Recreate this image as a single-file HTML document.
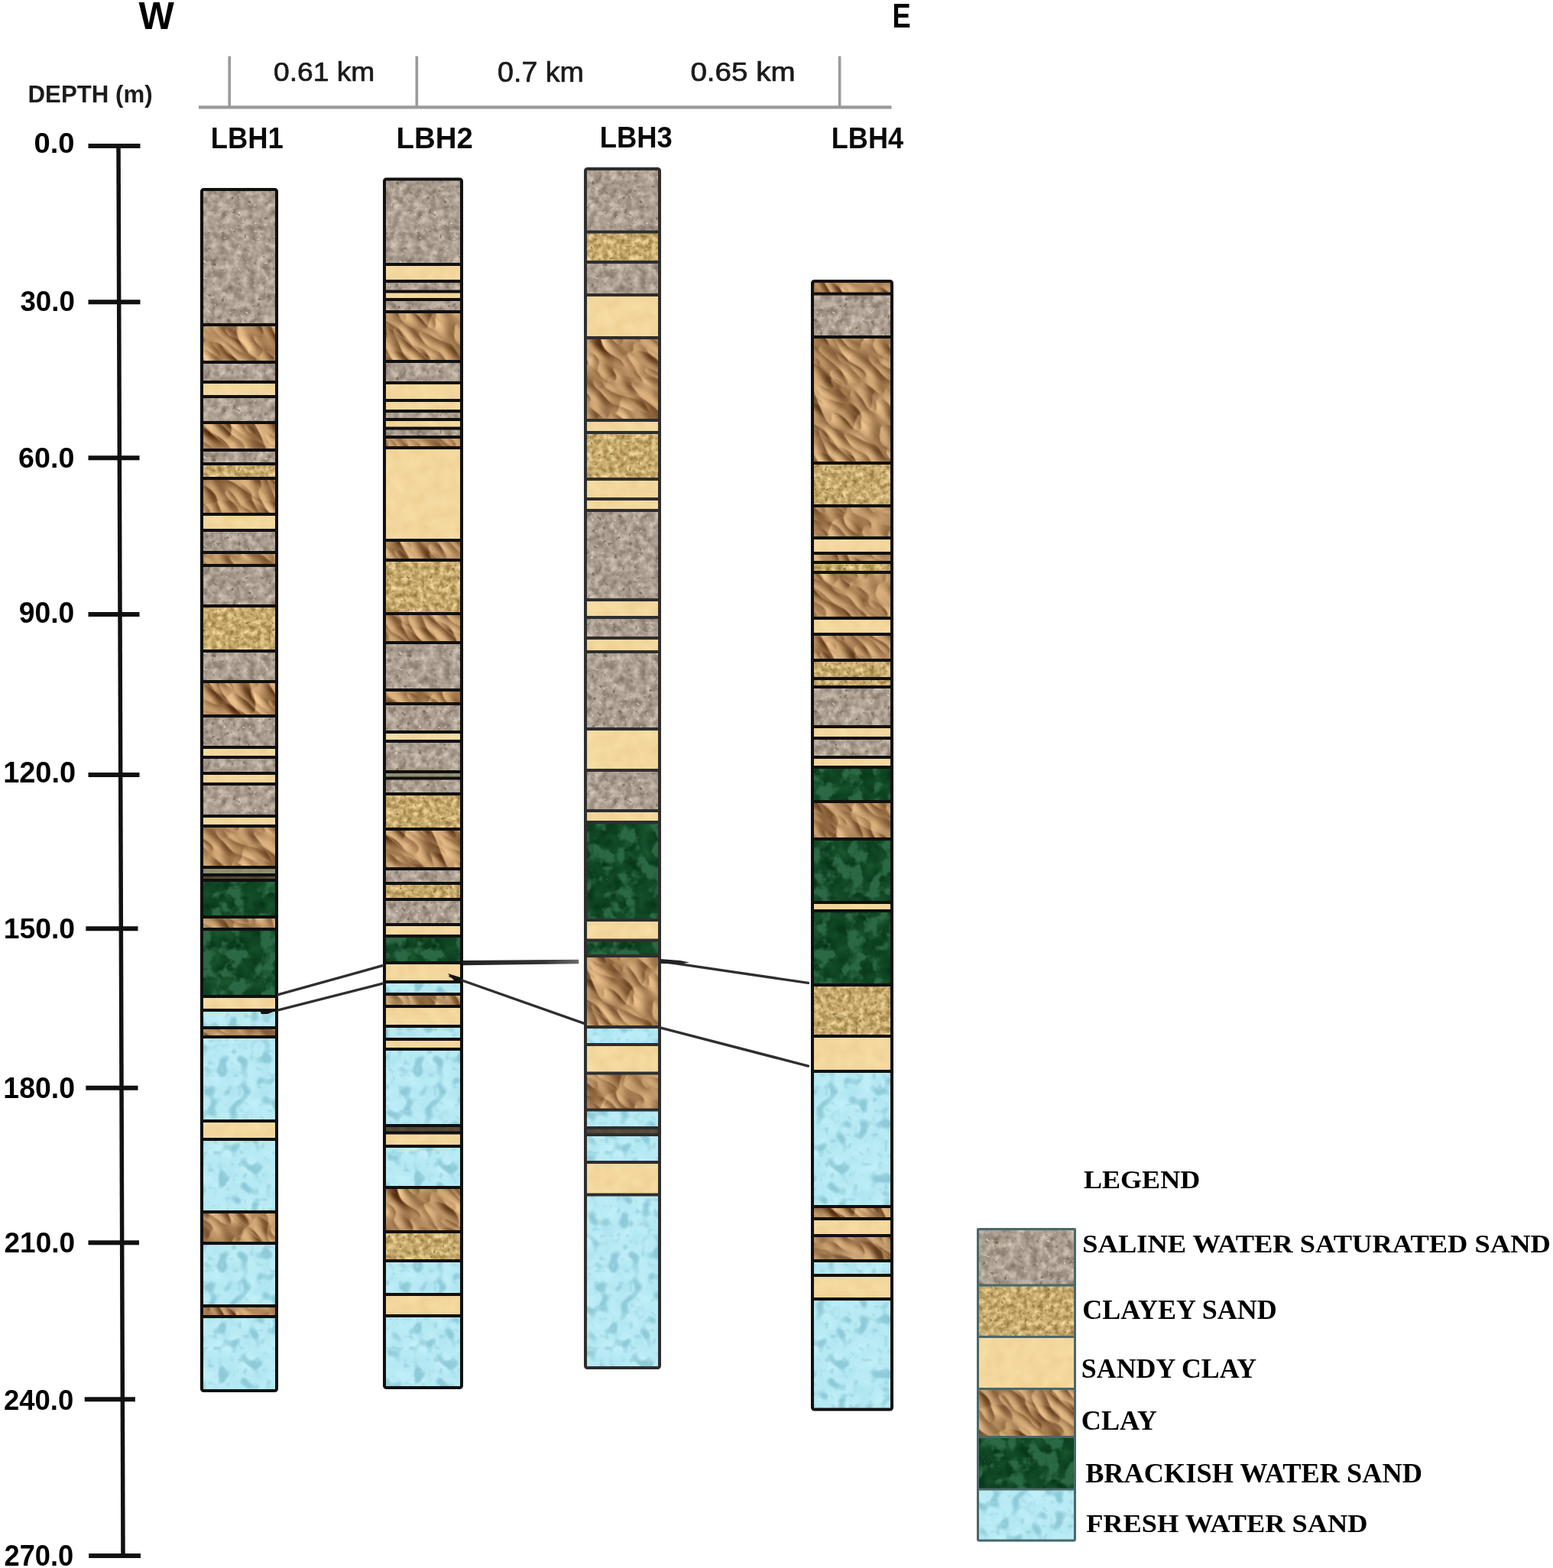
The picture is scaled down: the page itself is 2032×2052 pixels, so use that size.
<!DOCTYPE html>
<html><head><meta charset="utf-8"><title>Borehole lithology cross-section</title>
<style>html,body{margin:0;padding:0;background:#fff;}body{width:2032px;height:2052px;overflow:hidden;}svg{display:block;filter:blur(0.7px);}</style>
</head><body>
<svg width="2032" height="2052" viewBox="0 0 2032 2052">
<defs>
<filter id="fS" filterUnits="userSpaceOnUse" x="0" y="0" width="256" height="256" color-interpolation-filters="sRGB">
<feTurbulence type="fractalNoise" baseFrequency="0.1" numOctaves="2" seed="3" stitchTiles="stitch" result="n0"/>
<feColorMatrix in="n0" type="matrix" values="0.4549 0 0 0 0.4431 0.4627 0 0 0 0.3863 0.4471 0 0 0 0.3392 0 0 0 0 1" result="base"/>
<feTurbulence type="fractalNoise" baseFrequency="0.15" numOctaves="2" seed="7" stitchTiles="stitch" result="t0"/>
<feColorMatrix in="t0" type="matrix" values="0 0 0 0 0.4627 0 0 0 0 0.4078 0 0 0 0 0.3451 5 0 0 0 -3.200" result="s0"/>
<feComposite in="s0" in2="base" operator="over" result="c0"/>
<feTurbulence type="fractalNoise" baseFrequency="0.2" numOctaves="2" seed="11" stitchTiles="stitch" result="t1"/>
<feColorMatrix in="t1" type="matrix" values="0 0 0 0 0.8392 0 0 0 0 0.7922 0 0 0 0 0.7333 6 0 0 0 -4.020" result="s1"/>
<feComposite in="s1" in2="c0" operator="over" result="c1"/>
</filter>
<pattern id="pS" patternUnits="userSpaceOnUse" width="256" height="256"><rect width="256" height="256" filter="url(#fS)"/></pattern>
<filter id="fCS" filterUnits="userSpaceOnUse" x="0" y="0" width="256" height="256" color-interpolation-filters="sRGB">
<feTurbulence type="fractalNoise" baseFrequency="0.14" numOctaves="2" seed="5" stitchTiles="stitch" result="n0"/>
<feColorMatrix in="n0" type="matrix" values="0.5322 0 0 0 0.5202 0.5773 0 0 0 0.3820 0.5953 0 0 0 0.1376 0 0 0 0 1" result="base"/>
<feTurbulence type="fractalNoise" baseFrequency="0.2" numOctaves="2" seed="9" stitchTiles="stitch" result="t0"/>
<feColorMatrix in="t0" type="matrix" values="0 0 0 0 0.5412 0 0 0 0 0.4549 0 0 0 0 0.2667 5 0 0 0 -3.150" result="s0"/>
<feComposite in="s0" in2="base" operator="over" result="c0"/>
</filter>
<pattern id="pCS" patternUnits="userSpaceOnUse" width="256" height="256"><rect width="256" height="256" filter="url(#fCS)"/></pattern>
<filter id="fSC" filterUnits="userSpaceOnUse" x="0" y="0" width="256" height="256" color-interpolation-filters="sRGB">
<feTurbulence type="fractalNoise" baseFrequency="0.06" numOctaves="2" seed="2" stitchTiles="stitch" result="n0"/>
<feColorMatrix in="n0" type="matrix" values="0.0424 0 0 0 0.9318 0.0776 0 0 0 0.8043 0.0988 0 0 0 0.5663 0 0 0 0 1" result="base"/>
</filter>
<pattern id="pSC" patternUnits="userSpaceOnUse" width="256" height="256"><rect width="256" height="256" filter="url(#fSC)"/></pattern>
<filter id="fC" filterUnits="userSpaceOnUse" x="0" y="0" width="256" height="256" color-interpolation-filters="sRGB">
<feTurbulence type="turbulence" baseFrequency="0.017 0.03" numOctaves="2" seed="4" stitchTiles="stitch" result="tb"/>
<feDiffuseLighting in="tb" surfaceScale="3.2" diffuseConstant="1" lighting-color="#fff" result="lit"><feDistantLight azimuth="135" elevation="40"/></feDiffuseLighting>
<feColorMatrix in="lit" type="matrix" values="1.2188 0 0 0 -0.0882 1.1859 0 0 0 -0.2253 1.0047 0 0 0 -0.2852 0 0 0 0 1" result="base"/>
</filter>
<pattern id="pC" patternUnits="userSpaceOnUse" width="256" height="256" patternTransform="rotate(40)"><rect width="256" height="256" filter="url(#fC)"/></pattern>
<filter id="fB" filterUnits="userSpaceOnUse" x="0" y="0" width="256" height="256" color-interpolation-filters="sRGB">
<feTurbulence type="fractalNoise" baseFrequency="0.06" numOctaves="2" seed="6" stitchTiles="stitch" result="n0"/>
<feColorMatrix in="n0" type="matrix" values="0.1200 0 0 0 -0.0031 0.2047 0 0 0 0.1663 0.1341 0 0 0 0.0682 0 0 0 0 1" result="base"/>
<feTurbulence type="fractalNoise" baseFrequency="0.045" numOctaves="3" seed="19" stitchTiles="stitch" result="t0"/>
<feColorMatrix in="t0" type="matrix" values="0 0 0 0 0.1686 0 0 0 0 0.4078 0 0 0 0 0.2667 7 0 0 0 -3.430" result="s0"/>
<feComposite in="s0" in2="base" operator="over" result="c0"/>
<feTurbulence type="fractalNoise" baseFrequency="0.5" numOctaves="2" seed="13" stitchTiles="stitch" result="t1"/>
<feColorMatrix in="t1" type="matrix" values="0 0 0 0 0.6039 0 0 0 0 0.7059 0 0 0 0 0.7216 10 0 0 0 -8.000" result="s1"/>
<feComposite in="s1" in2="c0" operator="over" result="c1"/>
</filter>
<pattern id="pB" patternUnits="userSpaceOnUse" width="256" height="256"><rect width="256" height="256" filter="url(#fB)"/></pattern>
<filter id="fF" filterUnits="userSpaceOnUse" x="0" y="0" width="256" height="256" color-interpolation-filters="sRGB">
<feTurbulence type="fractalNoise" baseFrequency="0.05" numOctaves="2" seed="8" stitchTiles="stitch" result="n0"/>
<feColorMatrix in="n0" type="matrix" values="0.1129 0 0 0 0.6651 0.0612 0 0 0 0.8890 0.0471 0 0 0 0.9333 0 0 0 0 1" result="base"/>
<feTurbulence type="fractalNoise" baseFrequency="0.07" numOctaves="1" seed="17" stitchTiles="stitch" result="t0"/>
<feColorMatrix in="t0" type="matrix" values="0 0 0 0 0.5569 0 0 0 0 0.7961 0 0 0 0 0.8471 6 0 0 0 -3.180" result="s0"/>
<feComposite in="s0" in2="base" operator="over" result="c0"/>
<feTurbulence type="fractalNoise" baseFrequency="0.13" numOctaves="1" seed="23" stitchTiles="stitch" result="t1"/>
<feColorMatrix in="t1" type="matrix" values="0 0 0 0 0.6157 0 0 0 0 0.8353 0 0 0 0 0.8824 5 0 0 0 -3.000" result="s1"/>
<feComposite in="s1" in2="c0" operator="over" result="c1"/>
</filter>
<pattern id="pF" patternUnits="userSpaceOnUse" width="256" height="256"><rect width="256" height="256" filter="url(#fF)"/></pattern>
<filter id="fO" filterUnits="userSpaceOnUse" x="0" y="0" width="256" height="256" color-interpolation-filters="sRGB">
<feTurbulence type="fractalNoise" baseFrequency="0.1" numOctaves="1" seed="1" stitchTiles="stitch" result="n0"/>
<feColorMatrix in="n0" type="matrix" values="0.1333 0 0 0 0.4941 0.1333 0 0 0 0.4863 0.1255 0 0 0 0.3765 0 0 0 0 1" result="base"/>
</filter>
<pattern id="pO" patternUnits="userSpaceOnUse" width="256" height="256"><rect width="256" height="256" filter="url(#fO)"/></pattern>
<filter id="fD" filterUnits="userSpaceOnUse" x="0" y="0" width="256" height="256" color-interpolation-filters="sRGB">
<feTurbulence type="fractalNoise" baseFrequency="0.1" numOctaves="1" seed="1" stitchTiles="stitch" result="n0"/>
<feColorMatrix in="n0" type="matrix" values="0.1725 0 0 0 0.2431 0.1529 0 0 0 0.2078 0.1255 0 0 0 0.1569 0 0 0 0 1" result="base"/>
</filter>
<pattern id="pD" patternUnits="userSpaceOnUse" width="256" height="256"><rect width="256" height="256" filter="url(#fD)"/></pattern>
</defs>
<rect width="2032" height="2052" fill="#fff"/>
<line x1="260" y1="140.3" x2="1166.5" y2="140.3" stroke="#9a9a9a" stroke-width="4.2"/>
<line x1="300.2" y1="73.5" x2="300.2" y2="140" stroke="#9a9a9a" stroke-width="3.6"/>
<line x1="545.3" y1="73.5" x2="545.3" y2="140" stroke="#9a9a9a" stroke-width="3.6"/>
<line x1="1098.6" y1="73.5" x2="1098.6" y2="140" stroke="#9a9a9a" stroke-width="3.6"/>
<line x1="155.0" y1="189" x2="161.0" y2="2036" stroke="#111" stroke-width="5.5"/>
<line x1="115.5" y1="191.1" x2="183.5" y2="191.1" stroke="#111" stroke-width="6"/>
<line x1="115.5" y1="395.3" x2="183.5" y2="395.3" stroke="#111" stroke-width="6"/>
<line x1="115.5" y1="599.2" x2="182.5" y2="599.2" stroke="#111" stroke-width="6"/>
<line x1="115.5" y1="804.1" x2="182.5" y2="804.1" stroke="#111" stroke-width="6"/>
<line x1="115.5" y1="1014" x2="182.5" y2="1014" stroke="#111" stroke-width="6"/>
<line x1="112.3" y1="1215.2" x2="180.5" y2="1215.2" stroke="#111" stroke-width="6"/>
<line x1="112.3" y1="1423.8" x2="180.5" y2="1423.8" stroke="#111" stroke-width="6"/>
<line x1="115.5" y1="1626.2" x2="182.0" y2="1626.2" stroke="#111" stroke-width="6"/>
<line x1="110.7" y1="1831.3" x2="176.9" y2="1831.3" stroke="#111" stroke-width="6"/>
<line x1="116.2" y1="2036" x2="184.0" y2="2036" stroke="#111" stroke-width="6"/>
<g id="LBH1">
<rect x="263" y="248" width="100" height="177.0" fill="url(#pS)"/>
<rect x="263" y="425" width="100" height="49.0" fill="url(#pC)"/>
<rect x="263" y="474" width="100" height="26.0" fill="url(#pS)"/>
<rect x="263" y="500" width="100" height="19.0" fill="url(#pSC)"/>
<rect x="263" y="519" width="100" height="34.0" fill="url(#pS)"/>
<rect x="263" y="553" width="100" height="36.0" fill="url(#pC)"/>
<rect x="263" y="589" width="100" height="18.0" fill="url(#pS)"/>
<rect x="263" y="607" width="100" height="19.0" fill="url(#pCS)"/>
<rect x="263" y="626" width="100" height="47.0" fill="url(#pC)"/>
<rect x="263" y="673" width="100" height="21.0" fill="url(#pSC)"/>
<rect x="263" y="694" width="100" height="29.0" fill="url(#pS)"/>
<rect x="263" y="723" width="100" height="17.0" fill="url(#pC)"/>
<rect x="263" y="740" width="100" height="53.0" fill="url(#pS)"/>
<rect x="263" y="793" width="100" height="59.0" fill="url(#pCS)"/>
<rect x="263" y="852" width="100" height="40.0" fill="url(#pS)"/>
<rect x="263" y="892" width="100" height="45.0" fill="url(#pC)"/>
<rect x="263" y="937" width="100" height="41.0" fill="url(#pS)"/>
<rect x="263" y="978" width="100" height="13.0" fill="url(#pSC)"/>
<rect x="263" y="991" width="100" height="21.0" fill="url(#pS)"/>
<rect x="263" y="1012" width="100" height="14.0" fill="url(#pSC)"/>
<rect x="263" y="1026" width="100" height="42.0" fill="url(#pS)"/>
<rect x="263" y="1068" width="100" height="13.0" fill="url(#pSC)"/>
<rect x="263" y="1081" width="100" height="54.0" fill="url(#pC)"/>
<rect x="263" y="1135" width="100" height="10.0" fill="url(#pO)"/>
<rect x="263" y="1145" width="100" height="7.0" fill="url(#pD)"/>
<rect x="263" y="1152" width="100" height="48.0" fill="url(#pB)"/>
<rect x="263" y="1200" width="100" height="16.0" fill="url(#pC)"/>
<rect x="263" y="1216" width="100" height="88.0" fill="url(#pB)"/>
<rect x="263" y="1304" width="100" height="18.0" fill="url(#pSC)"/>
<rect x="263" y="1322" width="100" height="23.0" fill="url(#pF)"/>
<rect x="263" y="1345" width="100" height="12.0" fill="url(#pC)"/>
<rect x="263" y="1357" width="100" height="110.0" fill="url(#pF)"/>
<rect x="263" y="1467" width="100" height="24.0" fill="url(#pSC)"/>
<rect x="263" y="1491" width="100" height="95.0" fill="url(#pF)"/>
<rect x="263" y="1586" width="100" height="41.0" fill="url(#pC)"/>
<rect x="263" y="1627" width="100" height="82.0" fill="url(#pF)"/>
<rect x="263" y="1709" width="100" height="14.0" fill="url(#pC)"/>
<rect x="263" y="1723" width="100" height="97.0" fill="url(#pF)"/>
<line x1="264" x2="362" y1="425" y2="425" stroke="#101010" stroke-width="4"/>
<line x1="264" x2="362" y1="474" y2="474" stroke="#101010" stroke-width="4"/>
<line x1="264" x2="362" y1="500" y2="500" stroke="#101010" stroke-width="4"/>
<line x1="264" x2="362" y1="519" y2="519" stroke="#101010" stroke-width="4"/>
<line x1="264" x2="362" y1="553" y2="553" stroke="#101010" stroke-width="4"/>
<line x1="264" x2="362" y1="589" y2="589" stroke="#101010" stroke-width="4"/>
<line x1="264" x2="362" y1="607" y2="607" stroke="#101010" stroke-width="4"/>
<line x1="264" x2="362" y1="626" y2="626" stroke="#101010" stroke-width="4"/>
<line x1="264" x2="362" y1="673" y2="673" stroke="#101010" stroke-width="4"/>
<line x1="264" x2="362" y1="694" y2="694" stroke="#101010" stroke-width="4"/>
<line x1="264" x2="362" y1="723" y2="723" stroke="#101010" stroke-width="4"/>
<line x1="264" x2="362" y1="740" y2="740" stroke="#101010" stroke-width="4"/>
<line x1="264" x2="362" y1="793" y2="793" stroke="#101010" stroke-width="4"/>
<line x1="264" x2="362" y1="852" y2="852" stroke="#101010" stroke-width="4"/>
<line x1="264" x2="362" y1="892" y2="892" stroke="#101010" stroke-width="4"/>
<line x1="264" x2="362" y1="937" y2="937" stroke="#101010" stroke-width="4"/>
<line x1="264" x2="362" y1="978" y2="978" stroke="#101010" stroke-width="4"/>
<line x1="264" x2="362" y1="991" y2="991" stroke="#101010" stroke-width="4"/>
<line x1="264" x2="362" y1="1012" y2="1012" stroke="#101010" stroke-width="4"/>
<line x1="264" x2="362" y1="1026" y2="1026" stroke="#101010" stroke-width="4"/>
<line x1="264" x2="362" y1="1068" y2="1068" stroke="#101010" stroke-width="4"/>
<line x1="264" x2="362" y1="1081" y2="1081" stroke="#101010" stroke-width="4"/>
<line x1="264" x2="362" y1="1135" y2="1135" stroke="#101010" stroke-width="4"/>
<line x1="264" x2="362" y1="1145" y2="1145" stroke="#101010" stroke-width="4"/>
<line x1="264" x2="362" y1="1152" y2="1152" stroke="#101010" stroke-width="4"/>
<line x1="264" x2="362" y1="1200" y2="1200" stroke="#101010" stroke-width="4"/>
<line x1="264" x2="362" y1="1216" y2="1216" stroke="#101010" stroke-width="4"/>
<line x1="264" x2="362" y1="1304" y2="1304" stroke="#101010" stroke-width="4"/>
<line x1="264" x2="362" y1="1322" y2="1322" stroke="#101010" stroke-width="4"/>
<line x1="264" x2="362" y1="1345" y2="1345" stroke="#101010" stroke-width="4"/>
<line x1="264" x2="362" y1="1357" y2="1357" stroke="#101010" stroke-width="4"/>
<line x1="264" x2="362" y1="1467" y2="1467" stroke="#101010" stroke-width="4"/>
<line x1="264" x2="362" y1="1491" y2="1491" stroke="#101010" stroke-width="4"/>
<line x1="264" x2="362" y1="1586" y2="1586" stroke="#101010" stroke-width="4"/>
<line x1="264" x2="362" y1="1627" y2="1627" stroke="#101010" stroke-width="4"/>
<line x1="264" x2="362" y1="1709" y2="1709" stroke="#101010" stroke-width="4"/>
<line x1="264" x2="362" y1="1723" y2="1723" stroke="#101010" stroke-width="4"/>
<rect x="264" y="248" width="98" height="1572" rx="2.5" fill="none" stroke="#101010" stroke-width="4"/>
</g>
<g id="LBH2">
<rect x="502" y="235" width="103" height="111.0" fill="url(#pS)"/>
<rect x="502" y="346" width="103" height="22.0" fill="url(#pSC)"/>
<rect x="502" y="368" width="103" height="13.5" fill="url(#pS)"/>
<rect x="502" y="381.5" width="103" height="10.5" fill="url(#pSC)"/>
<rect x="502" y="392" width="103" height="16.0" fill="url(#pS)"/>
<rect x="502" y="408" width="103" height="65.0" fill="url(#pC)"/>
<rect x="502" y="473" width="103" height="28.0" fill="url(#pS)"/>
<rect x="502" y="501" width="103" height="23.0" fill="url(#pSC)"/>
<rect x="502" y="524" width="103" height="14.0" fill="url(#pSC)"/>
<rect x="502" y="538" width="103" height="11.0" fill="url(#pS)"/>
<rect x="502" y="549" width="103" height="11.5" fill="url(#pSC)"/>
<rect x="502" y="560.5" width="103" height="11.5" fill="url(#pS)"/>
<rect x="502" y="572" width="103" height="14.0" fill="url(#pC)"/>
<rect x="502" y="586" width="103" height="121.0" fill="url(#pSC)"/>
<rect x="502" y="707" width="103" height="26.0" fill="url(#pC)"/>
<rect x="502" y="733" width="103" height="70.0" fill="url(#pCS)"/>
<rect x="502" y="803" width="103" height="38.0" fill="url(#pC)"/>
<rect x="502" y="841" width="103" height="62.0" fill="url(#pS)"/>
<rect x="502" y="903" width="103" height="18.0" fill="url(#pC)"/>
<rect x="502" y="921" width="103" height="37.0" fill="url(#pS)"/>
<rect x="502" y="958" width="103" height="12.0" fill="url(#pSC)"/>
<rect x="502" y="970" width="103" height="40.0" fill="url(#pS)"/>
<rect x="502" y="1010" width="103" height="8.5" fill="url(#pO)"/>
<rect x="502" y="1018.5" width="103" height="20.5" fill="url(#pS)"/>
<rect x="502" y="1039" width="103" height="46.0" fill="url(#pCS)"/>
<rect x="502" y="1085" width="103" height="52.0" fill="url(#pC)"/>
<rect x="502" y="1137" width="103" height="19.0" fill="url(#pS)"/>
<rect x="502" y="1156" width="103" height="21.0" fill="url(#pCS)"/>
<rect x="502" y="1177" width="103" height="33.0" fill="url(#pS)"/>
<rect x="502" y="1210" width="103" height="15.0" fill="url(#pSC)"/>
<rect x="502" y="1225" width="103" height="35.0" fill="url(#pB)"/>
<rect x="502" y="1260" width="103" height="25.0" fill="url(#pSC)"/>
<rect x="502" y="1285" width="103" height="16.0" fill="url(#pF)"/>
<rect x="502" y="1301" width="103" height="16.0" fill="url(#pC)"/>
<rect x="502" y="1317" width="103" height="26.0" fill="url(#pSC)"/>
<rect x="502" y="1343" width="103" height="17.0" fill="url(#pF)"/>
<rect x="502" y="1360" width="103" height="13.0" fill="url(#pSC)"/>
<rect x="502" y="1373" width="103" height="100.0" fill="url(#pF)"/>
<rect x="502" y="1473" width="103" height="9.5" fill="url(#pD)"/>
<rect x="502" y="1482.5" width="103" height="17.5" fill="url(#pSC)"/>
<rect x="502" y="1500" width="103" height="54.0" fill="url(#pF)"/>
<rect x="502" y="1554" width="103" height="58.0" fill="url(#pC)"/>
<rect x="502" y="1612" width="103" height="38.0" fill="url(#pCS)"/>
<rect x="502" y="1650" width="103" height="44.0" fill="url(#pF)"/>
<rect x="502" y="1694" width="103" height="28.0" fill="url(#pSC)"/>
<rect x="502" y="1722" width="103" height="93.5" fill="url(#pF)"/>
<line x1="503" x2="604" y1="346" y2="346" stroke="#101010" stroke-width="4"/>
<line x1="503" x2="604" y1="368" y2="368" stroke="#101010" stroke-width="4"/>
<line x1="503" x2="604" y1="381.5" y2="381.5" stroke="#101010" stroke-width="4"/>
<line x1="503" x2="604" y1="392" y2="392" stroke="#101010" stroke-width="4"/>
<line x1="503" x2="604" y1="408" y2="408" stroke="#101010" stroke-width="4"/>
<line x1="503" x2="604" y1="473" y2="473" stroke="#101010" stroke-width="4"/>
<line x1="503" x2="604" y1="501" y2="501" stroke="#101010" stroke-width="4"/>
<line x1="503" x2="604" y1="524" y2="524" stroke="#101010" stroke-width="4"/>
<line x1="503" x2="604" y1="538" y2="538" stroke="#101010" stroke-width="4"/>
<line x1="503" x2="604" y1="549" y2="549" stroke="#101010" stroke-width="4"/>
<line x1="503" x2="604" y1="560.5" y2="560.5" stroke="#101010" stroke-width="4"/>
<line x1="503" x2="604" y1="572" y2="572" stroke="#101010" stroke-width="4"/>
<line x1="503" x2="604" y1="586" y2="586" stroke="#101010" stroke-width="4"/>
<line x1="503" x2="604" y1="707" y2="707" stroke="#101010" stroke-width="4"/>
<line x1="503" x2="604" y1="733" y2="733" stroke="#101010" stroke-width="4"/>
<line x1="503" x2="604" y1="803" y2="803" stroke="#101010" stroke-width="4"/>
<line x1="503" x2="604" y1="841" y2="841" stroke="#101010" stroke-width="4"/>
<line x1="503" x2="604" y1="903" y2="903" stroke="#101010" stroke-width="4"/>
<line x1="503" x2="604" y1="921" y2="921" stroke="#101010" stroke-width="4"/>
<line x1="503" x2="604" y1="958" y2="958" stroke="#101010" stroke-width="4"/>
<line x1="503" x2="604" y1="970" y2="970" stroke="#101010" stroke-width="4"/>
<line x1="503" x2="604" y1="1010" y2="1010" stroke="#101010" stroke-width="4"/>
<line x1="503" x2="604" y1="1018.5" y2="1018.5" stroke="#101010" stroke-width="4"/>
<line x1="503" x2="604" y1="1039" y2="1039" stroke="#101010" stroke-width="4"/>
<line x1="503" x2="604" y1="1085" y2="1085" stroke="#101010" stroke-width="4"/>
<line x1="503" x2="604" y1="1137" y2="1137" stroke="#101010" stroke-width="4"/>
<line x1="503" x2="604" y1="1156" y2="1156" stroke="#101010" stroke-width="4"/>
<line x1="503" x2="604" y1="1177" y2="1177" stroke="#101010" stroke-width="4"/>
<line x1="503" x2="604" y1="1210" y2="1210" stroke="#101010" stroke-width="4"/>
<line x1="503" x2="604" y1="1225" y2="1225" stroke="#101010" stroke-width="4"/>
<line x1="503" x2="604" y1="1260" y2="1260" stroke="#101010" stroke-width="4"/>
<line x1="503" x2="604" y1="1285" y2="1285" stroke="#101010" stroke-width="4"/>
<line x1="503" x2="604" y1="1301" y2="1301" stroke="#101010" stroke-width="4"/>
<line x1="503" x2="604" y1="1317" y2="1317" stroke="#101010" stroke-width="4"/>
<line x1="503" x2="604" y1="1343" y2="1343" stroke="#101010" stroke-width="4"/>
<line x1="503" x2="604" y1="1360" y2="1360" stroke="#101010" stroke-width="4"/>
<line x1="503" x2="604" y1="1373" y2="1373" stroke="#101010" stroke-width="4"/>
<line x1="503" x2="604" y1="1473" y2="1473" stroke="#101010" stroke-width="4"/>
<line x1="503" x2="604" y1="1482.5" y2="1482.5" stroke="#101010" stroke-width="4"/>
<line x1="503" x2="604" y1="1500" y2="1500" stroke="#101010" stroke-width="4"/>
<line x1="503" x2="604" y1="1554" y2="1554" stroke="#101010" stroke-width="4"/>
<line x1="503" x2="604" y1="1612" y2="1612" stroke="#101010" stroke-width="4"/>
<line x1="503" x2="604" y1="1650" y2="1650" stroke="#101010" stroke-width="4"/>
<line x1="503" x2="604" y1="1694" y2="1694" stroke="#101010" stroke-width="4"/>
<line x1="503" x2="604" y1="1722" y2="1722" stroke="#101010" stroke-width="4"/>
<rect x="503" y="234.5" width="101" height="1581.5" rx="2.5" fill="none" stroke="#101010" stroke-width="4"/>
</g>
<g id="LBH3">
<rect x="765" y="221" width="99" height="82.5" fill="url(#pS)"/>
<rect x="765" y="303.5" width="99" height="39.5" fill="url(#pCS)"/>
<rect x="765" y="343" width="99" height="43.0" fill="url(#pS)"/>
<rect x="765" y="386" width="99" height="56.0" fill="url(#pSC)"/>
<rect x="765" y="442" width="99" height="108.0" fill="url(#pC)"/>
<rect x="765" y="550" width="99" height="16.0" fill="url(#pSC)"/>
<rect x="765" y="566" width="99" height="61.0" fill="url(#pCS)"/>
<rect x="765" y="627" width="99" height="26.0" fill="url(#pSC)"/>
<rect x="765" y="653" width="99" height="15.0" fill="url(#pSC)"/>
<rect x="765" y="668" width="99" height="117.0" fill="url(#pS)"/>
<rect x="765" y="785" width="99" height="23.0" fill="url(#pSC)"/>
<rect x="765" y="808" width="99" height="27.0" fill="url(#pS)"/>
<rect x="765" y="835" width="99" height="18.0" fill="url(#pSC)"/>
<rect x="765" y="853" width="99" height="101.0" fill="url(#pS)"/>
<rect x="765" y="954" width="99" height="54.0" fill="url(#pSC)"/>
<rect x="765" y="1008" width="99" height="53.0" fill="url(#pS)"/>
<rect x="765" y="1061" width="99" height="15.0" fill="url(#pSC)"/>
<rect x="765" y="1076" width="99" height="128.0" fill="url(#pB)"/>
<rect x="765" y="1204" width="99" height="26.5" fill="url(#pSC)"/>
<rect x="765" y="1230.5" width="99" height="20.5" fill="url(#pB)"/>
<rect x="765" y="1251" width="99" height="93.0" fill="url(#pC)"/>
<rect x="765" y="1344" width="99" height="23.0" fill="url(#pF)"/>
<rect x="765" y="1367" width="99" height="37.5" fill="url(#pSC)"/>
<rect x="765" y="1404.5" width="99" height="48.0" fill="url(#pC)"/>
<rect x="765" y="1452.5" width="99" height="23.5" fill="url(#pF)"/>
<rect x="765" y="1476" width="99" height="9.0" fill="url(#pD)"/>
<rect x="765" y="1485" width="99" height="36.0" fill="url(#pF)"/>
<rect x="765" y="1521" width="99" height="42.5" fill="url(#pSC)"/>
<rect x="765" y="1563.5" width="99" height="226.0" fill="url(#pF)"/>
<line x1="766" x2="863" y1="303.5" y2="303.5" stroke="#2e2e2e" stroke-width="4"/>
<line x1="766" x2="863" y1="343" y2="343" stroke="#2e2e2e" stroke-width="4"/>
<line x1="766" x2="863" y1="386" y2="386" stroke="#2e2e2e" stroke-width="4"/>
<line x1="766" x2="863" y1="442" y2="442" stroke="#2e2e2e" stroke-width="4"/>
<line x1="766" x2="863" y1="550" y2="550" stroke="#2e2e2e" stroke-width="4"/>
<line x1="766" x2="863" y1="566" y2="566" stroke="#2e2e2e" stroke-width="4"/>
<line x1="766" x2="863" y1="627" y2="627" stroke="#2e2e2e" stroke-width="4"/>
<line x1="766" x2="863" y1="653" y2="653" stroke="#2e2e2e" stroke-width="4"/>
<line x1="766" x2="863" y1="668" y2="668" stroke="#2e2e2e" stroke-width="4"/>
<line x1="766" x2="863" y1="785" y2="785" stroke="#2e2e2e" stroke-width="4"/>
<line x1="766" x2="863" y1="808" y2="808" stroke="#2e2e2e" stroke-width="4"/>
<line x1="766" x2="863" y1="835" y2="835" stroke="#2e2e2e" stroke-width="4"/>
<line x1="766" x2="863" y1="853" y2="853" stroke="#2e2e2e" stroke-width="4"/>
<line x1="766" x2="863" y1="954" y2="954" stroke="#2e2e2e" stroke-width="4"/>
<line x1="766" x2="863" y1="1008" y2="1008" stroke="#2e2e2e" stroke-width="4"/>
<line x1="766" x2="863" y1="1061" y2="1061" stroke="#2e2e2e" stroke-width="4"/>
<line x1="766" x2="863" y1="1076" y2="1076" stroke="#2e2e2e" stroke-width="4"/>
<line x1="766" x2="863" y1="1204" y2="1204" stroke="#2e2e2e" stroke-width="4"/>
<line x1="766" x2="863" y1="1230.5" y2="1230.5" stroke="#2e2e2e" stroke-width="4"/>
<line x1="766" x2="863" y1="1251" y2="1251" stroke="#2e2e2e" stroke-width="4"/>
<line x1="766" x2="863" y1="1344" y2="1344" stroke="#2e2e2e" stroke-width="4"/>
<line x1="766" x2="863" y1="1367" y2="1367" stroke="#2e2e2e" stroke-width="4"/>
<line x1="766" x2="863" y1="1404.5" y2="1404.5" stroke="#2e2e2e" stroke-width="4"/>
<line x1="766" x2="863" y1="1452.5" y2="1452.5" stroke="#2e2e2e" stroke-width="4"/>
<line x1="766" x2="863" y1="1476" y2="1476" stroke="#2e2e2e" stroke-width="4"/>
<line x1="766" x2="863" y1="1485" y2="1485" stroke="#2e2e2e" stroke-width="4"/>
<line x1="766" x2="863" y1="1521" y2="1521" stroke="#2e2e2e" stroke-width="4"/>
<line x1="766" x2="863" y1="1563.5" y2="1563.5" stroke="#2e2e2e" stroke-width="4"/>
<rect x="766" y="221" width="97" height="1569" rx="2.5" fill="none" stroke="#2e2e2e" stroke-width="4"/>
</g>
<g id="LBH4">
<rect x="1062" y="368" width="106" height="16.5" fill="url(#pC)"/>
<rect x="1062" y="384.5" width="106" height="56.5" fill="url(#pS)"/>
<rect x="1062" y="441" width="106" height="165.0" fill="url(#pC)"/>
<rect x="1062" y="606" width="106" height="56.0" fill="url(#pCS)"/>
<rect x="1062" y="662" width="106" height="42.0" fill="url(#pC)"/>
<rect x="1062" y="704" width="106" height="20.0" fill="url(#pSC)"/>
<rect x="1062" y="724" width="106" height="12.0" fill="url(#pC)"/>
<rect x="1062" y="736" width="106" height="13.0" fill="url(#pCS)"/>
<rect x="1062" y="749" width="106" height="60.0" fill="url(#pC)"/>
<rect x="1062" y="809" width="106" height="21.0" fill="url(#pSC)"/>
<rect x="1062" y="830" width="106" height="34.0" fill="url(#pC)"/>
<rect x="1062" y="864" width="106" height="24.0" fill="url(#pCS)"/>
<rect x="1062" y="888" width="106" height="11.0" fill="url(#pCS)"/>
<rect x="1062" y="899" width="106" height="52.0" fill="url(#pS)"/>
<rect x="1062" y="951" width="106" height="15.0" fill="url(#pSC)"/>
<rect x="1062" y="966" width="106" height="25.0" fill="url(#pS)"/>
<rect x="1062" y="991" width="106" height="13.0" fill="url(#pSC)"/>
<rect x="1062" y="1004" width="106" height="45.0" fill="url(#pB)"/>
<rect x="1062" y="1049" width="106" height="49.0" fill="url(#pC)"/>
<rect x="1062" y="1098" width="106" height="83.0" fill="url(#pB)"/>
<rect x="1062" y="1181" width="106" height="11.0" fill="url(#pSC)"/>
<rect x="1062" y="1192" width="106" height="97.0" fill="url(#pB)"/>
<rect x="1062" y="1289" width="106" height="67.0" fill="url(#pCS)"/>
<rect x="1062" y="1356" width="106" height="46.0" fill="url(#pSC)"/>
<rect x="1062" y="1402" width="106" height="177.0" fill="url(#pF)"/>
<rect x="1062" y="1579" width="106" height="16.0" fill="url(#pC)"/>
<rect x="1062" y="1595" width="106" height="22.0" fill="url(#pSC)"/>
<rect x="1062" y="1617" width="106" height="33.0" fill="url(#pC)"/>
<rect x="1062" y="1650" width="106" height="19.0" fill="url(#pF)"/>
<rect x="1062" y="1669" width="106" height="31.0" fill="url(#pSC)"/>
<rect x="1062" y="1700" width="106" height="144.0" fill="url(#pF)"/>
<line x1="1063" x2="1167" y1="384.5" y2="384.5" stroke="#101010" stroke-width="4"/>
<line x1="1063" x2="1167" y1="441" y2="441" stroke="#101010" stroke-width="4"/>
<line x1="1063" x2="1167" y1="606" y2="606" stroke="#101010" stroke-width="4"/>
<line x1="1063" x2="1167" y1="662" y2="662" stroke="#101010" stroke-width="4"/>
<line x1="1063" x2="1167" y1="704" y2="704" stroke="#101010" stroke-width="4"/>
<line x1="1063" x2="1167" y1="724" y2="724" stroke="#101010" stroke-width="4"/>
<line x1="1063" x2="1167" y1="736" y2="736" stroke="#101010" stroke-width="4"/>
<line x1="1063" x2="1167" y1="749" y2="749" stroke="#101010" stroke-width="4"/>
<line x1="1063" x2="1167" y1="809" y2="809" stroke="#101010" stroke-width="4"/>
<line x1="1063" x2="1167" y1="830" y2="830" stroke="#101010" stroke-width="4"/>
<line x1="1063" x2="1167" y1="864" y2="864" stroke="#101010" stroke-width="4"/>
<line x1="1063" x2="1167" y1="888" y2="888" stroke="#101010" stroke-width="4"/>
<line x1="1063" x2="1167" y1="899" y2="899" stroke="#101010" stroke-width="4"/>
<line x1="1063" x2="1167" y1="951" y2="951" stroke="#101010" stroke-width="4"/>
<line x1="1063" x2="1167" y1="966" y2="966" stroke="#101010" stroke-width="4"/>
<line x1="1063" x2="1167" y1="991" y2="991" stroke="#101010" stroke-width="4"/>
<line x1="1063" x2="1167" y1="1004" y2="1004" stroke="#101010" stroke-width="4"/>
<line x1="1063" x2="1167" y1="1049" y2="1049" stroke="#101010" stroke-width="4"/>
<line x1="1063" x2="1167" y1="1098" y2="1098" stroke="#101010" stroke-width="4"/>
<line x1="1063" x2="1167" y1="1181" y2="1181" stroke="#101010" stroke-width="4"/>
<line x1="1063" x2="1167" y1="1192" y2="1192" stroke="#101010" stroke-width="4"/>
<line x1="1063" x2="1167" y1="1289" y2="1289" stroke="#101010" stroke-width="4"/>
<line x1="1063" x2="1167" y1="1356" y2="1356" stroke="#101010" stroke-width="4"/>
<line x1="1063" x2="1167" y1="1402" y2="1402" stroke="#101010" stroke-width="4"/>
<line x1="1063" x2="1167" y1="1579" y2="1579" stroke="#101010" stroke-width="4"/>
<line x1="1063" x2="1167" y1="1595" y2="1595" stroke="#101010" stroke-width="4"/>
<line x1="1063" x2="1167" y1="1617" y2="1617" stroke="#101010" stroke-width="4"/>
<line x1="1063" x2="1167" y1="1650" y2="1650" stroke="#101010" stroke-width="4"/>
<line x1="1063" x2="1167" y1="1669" y2="1669" stroke="#101010" stroke-width="4"/>
<line x1="1063" x2="1167" y1="1700" y2="1700" stroke="#101010" stroke-width="4"/>
<rect x="1063" y="368" width="104" height="1476.5" rx="2.5" fill="none" stroke="#101010" stroke-width="4"/>
</g>
<line x1="364" y1="1301.7" x2="500.6" y2="1263.7" stroke="#2f2f2f" stroke-width="3.4" stroke-linecap="round"/>
<line x1="364" y1="1321.9" x2="500.6" y2="1287.2" stroke="#2f2f2f" stroke-width="3.4" stroke-linecap="round"/>
<defs><linearGradient id="gC" x1="0" x2="1" y1="0" y2="0"><stop offset="0" stop-color="#222"/><stop offset="0.7" stop-color="#333"/><stop offset="1" stop-color="#6a6a6a"/></linearGradient></defs>
<polygon points="605.7,1257 757.2,1255.8 757.2,1261.2 605.7,1263.2" fill="url(#gC)"/>
<line x1="589" y1="1277.5" x2="764.4" y2="1339.4" stroke="#2f2f2f" stroke-width="3.4" stroke-linecap="round"/>
<polygon points="586,1274 602,1279 606,1286 594,1283" fill="#111"/>
<polygon points="340,1323 352,1322.5 364,1321.5 350,1327 342,1327" fill="#111"/>
<line x1="863.8" y1="1257.9" x2="1057.5" y2="1286.4" stroke="#2f2f2f" stroke-width="3.4" stroke-linecap="round"/>
<polygon points="864,1255 890,1257 902,1259.5 890,1261.5 864,1261" fill="#222"/>
<line x1="863.8" y1="1344.8" x2="1057.5" y2="1395.1" stroke="#2f2f2f" stroke-width="3.4" stroke-linecap="round"/>
<rect x="1278" y="1607" width="130" height="75.0" fill="url(#pS)"/>
<rect x="1278" y="1682" width="130" height="67.5" fill="url(#pCS)"/>
<rect x="1278" y="1749.5" width="130" height="68.0" fill="url(#pSC)"/>
<rect x="1278" y="1817.5" width="130" height="63.0" fill="url(#pC)"/>
<rect x="1278" y="1880.5" width="130" height="68.5" fill="url(#pB)"/>
<rect x="1278" y="1949" width="130" height="68.5" fill="url(#pF)"/>
<line x1="1278" x2="1408" y1="1682" y2="1682" stroke="#4a6868" stroke-width="3"/>
<line x1="1278" x2="1408" y1="1749.5" y2="1749.5" stroke="#4a6868" stroke-width="3"/>
<line x1="1278" x2="1408" y1="1817.5" y2="1817.5" stroke="#4a6868" stroke-width="3"/>
<line x1="1278" x2="1408" y1="1880.5" y2="1880.5" stroke="#4a6868" stroke-width="3"/>
<line x1="1278" x2="1408" y1="1949" y2="1949" stroke="#4a6868" stroke-width="3"/>
<rect x="1279.5" y="1608.5" width="127" height="407.5" fill="none" stroke="#4a6868" stroke-width="3" rx="2"/>
<text transform="translate(181.50 37.50) scale(1.0007 1)" font-family="'Liberation Sans', sans-serif" font-weight="bold" font-size="49.07" fill="#000">W</text>
<text transform="translate(1167.43 36.00) scale(0.8108 1)" font-family="'Liberation Sans', sans-serif" font-weight="bold" font-size="44.80" fill="#000">E</text>
<text transform="translate(36.55 134.35) scale(0.9823 1)" font-family="'Liberation Sans', sans-serif" font-weight="bold" font-size="31.79" fill="#1c1c1c">DEPTH (m)</text>
<text transform="translate(275.72 193.60) scale(0.9286 1)" font-family="'Liberation Sans', sans-serif" font-weight="bold" font-size="39.25" fill="#0a0a0a">LBH1</text>
<text transform="translate(518.60 193.60) scale(0.9791 1)" font-family="'Liberation Sans', sans-serif" font-weight="bold" font-size="39.25" fill="#0a0a0a">LBH2</text>
<text transform="translate(784.72 193.41) scale(0.9597 1)" font-family="'Liberation Sans', sans-serif" font-weight="bold" font-size="37.98" fill="#0a0a0a">LBH3</text>
<text transform="translate(1087.74 194.00) scale(0.9304 1)" font-family="'Liberation Sans', sans-serif" font-weight="bold" font-size="38.83" fill="#0a0a0a">LBH4</text>
<text transform="translate(358.04 106.45) scale(1.0533 1)" font-family="'Liberation Sans', sans-serif" font-weight="normal" font-size="35.33" fill="#1a1a1a" stroke="#1a1a1a" stroke-width="0.7">0.61 km</text>
<text transform="translate(651.02 106.71) scale(0.9972 1)" font-family="'Liberation Sans', sans-serif" font-weight="normal" font-size="37.73" fill="#1a1a1a" stroke="#1a1a1a" stroke-width="0.7">0.7 km</text>
<text transform="translate(903.39 106.15) scale(1.0999 1)" font-family="'Liberation Sans', sans-serif" font-weight="normal" font-size="35.07" fill="#1a1a1a" stroke="#1a1a1a" stroke-width="0.7">0.65 km</text>
<text transform="translate(44.51 199.71) scale(1.0119 1)" font-family="'Liberation Sans', sans-serif" font-weight="bold" font-size="37.70" fill="#000">0.0</text>
<text transform="translate(26.43 407.43) scale(1.0049 1)" font-family="'Liberation Sans', sans-serif" font-weight="bold" font-size="36.59" fill="#000">30.0</text>
<text transform="translate(24.12 612.21) scale(0.9975 1)" font-family="'Liberation Sans', sans-serif" font-weight="bold" font-size="37.70" fill="#000">60.0</text>
<text transform="translate(24.84 815.41) scale(0.9804 1)" font-family="'Liberation Sans', sans-serif" font-weight="bold" font-size="37.98" fill="#000">90.0</text>
<text transform="translate(4.13 1023.99) scale(0.9781 1)" font-family="'Liberation Sans', sans-serif" font-weight="bold" font-size="38.82" fill="#000">120.0</text>
<text transform="translate(4.67 1228.42) scale(1.0117 1)" font-family="'Liberation Sans', sans-serif" font-weight="bold" font-size="36.87" fill="#000">150.0</text>
<text transform="translate(4.36 1437.41) scale(0.9853 1)" font-family="'Liberation Sans', sans-serif" font-weight="bold" font-size="37.98" fill="#000">180.0</text>
<text transform="translate(5.55 1639.21) scale(0.9799 1)" font-family="'Liberation Sans', sans-serif" font-weight="bold" font-size="37.70" fill="#000">210.0</text>
<text transform="translate(5.06 1844.72) scale(0.9849 1)" font-family="'Liberation Sans', sans-serif" font-weight="bold" font-size="37.01" fill="#000">240.0</text>
<text transform="translate(5.57 2049.40) scale(0.9473 1)" font-family="'Liberation Sans', sans-serif" font-weight="bold" font-size="38.26" fill="#000">270.0</text>
<text transform="translate(1417.94 1554.96) scale(1.0418 1)" font-family="'Liberation Serif', serif" font-weight="bold" font-size="34.62" fill="#000">LEGEND</text>
<text transform="translate(1416.29 1639.46) scale(1.0587 1)" font-family="'Liberation Serif', serif" font-weight="bold" font-size="34.47" fill="#000">SALINE WATER SATURATED SAND</text>
<text transform="translate(1416.31 1725.95) scale(1.0321 1)" font-family="'Liberation Serif', serif" font-weight="bold" font-size="34.91" fill="#000">CLAYEY SAND</text>
<text transform="translate(1414.82 1803.25) scale(1.0106 1)" font-family="'Liberation Serif', serif" font-weight="bold" font-size="35.49" fill="#000">SANDY CLAY</text>
<text transform="translate(1414.80 1870.85) scale(1.0320 1)" font-family="'Liberation Serif', serif" font-weight="bold" font-size="35.05" fill="#000">CLAY</text>
<text transform="translate(1420.13 1939.85) scale(1.0371 1)" font-family="'Liberation Serif', serif" font-weight="bold" font-size="35.05" fill="#000">BRACKISH WATER SAND</text>
<text transform="translate(1421.13 2005.46) scale(1.0505 1)" font-family="'Liberation Serif', serif" font-weight="bold" font-size="34.62" fill="#000">FRESH WATER SAND</text>
</svg>
</body></html>
